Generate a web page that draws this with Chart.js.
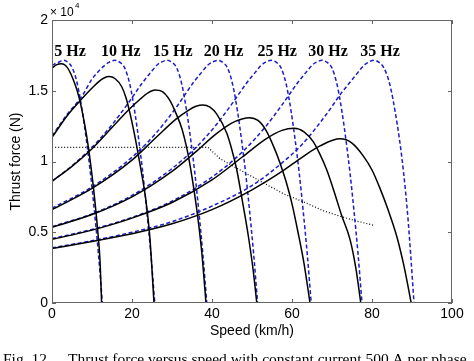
<!DOCTYPE html>
<html>
<head>
<meta charset="utf-8">
<script src="https://cdn.jsdelivr.net/npm/chart.js@4"></script>
<style>
html, body { margin: 0; padding: 0; background: #fff; }
</style>
</head>
<body>
<canvas id="myChart" width="474" height="361"></canvas>
<script>
// speed (km/h), thrust (x10^4 N)
const freqLabels = ['5 Hz', '10 Hz', '15 Hz', '20 Hz', '25 Hz', '30 Hz', '35 Hz']

const black5 = [[0,1.66],[1.2,1.685],[2.4,1.69],[3.8,1.665],[5.3,1.58],[6.3,1.50],[7.2,1.40],[8.25,1.25],[9.1,1.10],[9.8,0.95],[10.5,0.78],[11.4,0.52],[12,0.30],[12.4,0]]
const black10 = [[0,1.17],[3.7,1.32],[7.7,1.45],[9.7,1.51],[11.7,1.565],[13,1.59],[14.3,1.60],[15.8,1.585],[17.4,1.53],[18.5,1.45],[19.5,1.34],[20.5,1.21],[21.5,1.06],[22.5,0.90],[23.5,0.72],[24.5,0.45],[25.5,0]]
const black15 = [[0,0.86],[5,0.965],[10,1.09],[15,1.24],[19,1.36],[22,1.44],[24,1.485],[25.75,1.505],[27.5,1.495],[29.5,1.43],[31,1.34],[32.5,1.23],[33.8,1.08],[35,0.89],[36.2,0.66],[37.4,0.37],[38.5,0]]
const black20 = [[0,0.66],[10,0.81],[20,1.01],[26,1.17],[31,1.30],[34,1.36],[36,1.39],[37.7,1.40],[39.5,1.385],[41.2,1.335],[43.7,1.20],[45,1.08],[46.2,0.94],[47.6,0.72],[49.1,0.47],[50.3,0.23],[51.2,0]]
const black25 = [[0,0.535],[10,0.625],[20,0.75],[30,0.93],[36,1.07],[40.8,1.19],[44.8,1.27],[47.5,1.30],[49.3,1.31],[51.5,1.29],[53.5,1.22],[55.5,1.10],[57,0.99],[58.5,0.86],[60,0.70],[61.5,0.50],[63,0.28],[64.5,0]]
const black30 = [[0,0.45],[10,0.515],[20,0.60],[30,0.71],[40,0.87],[47.5,1.03],[53.5,1.16],[57.5,1.22],[60.5,1.235],[63,1.21],[65.3,1.14],[67,1.05],[68.7,0.94],[70.5,0.79],[72.4,0.62],[74.5,0.45],[76,0.24],[77.2,0]]
const black35 = [[0,0.385],[10,0.435],[20,0.49],[30,0.56],[40,0.66],[50,0.80],[57.5,0.93],[62.5,1.03],[67,1.11],[72,1.16],[75,1.13],[77.8,1.04],[80,0.94],[82,0.81],[84,0.66],[86.2,0.47],[88,0.26],[89.8,0]]

const blue5 = [[0,1.68],[1.5,1.70],[3.0,1.715],[4.0,1.70],[5.1,1.66],[6.4,1.54],[7.6,1.35],[8.6,1.15],[9.6,0.92],[10.6,0.65],[11.6,0.35],[12.6,0]]
const blue10 = [[0,1.18],[3.7,1.33],[7.7,1.47],[9.7,1.57],[11.7,1.64],[13.2,1.68],[14.2,1.70],[15.7,1.715],[17.0,1.70],[18.2,1.66],[19.5,1.54],[20.7,1.35],[21.7,1.15],[22.7,0.92],[23.7,0.65],[24.7,0.35],[25.7,0]]
const blue15 = [[0,0.86],[5,0.97],[10,1.10],[15,1.26],[19,1.41],[22.7,1.56],[24.7,1.63],[26.2,1.68],[27.2,1.70],[28.7,1.715],[30,1.70],[31.2,1.66],[32.5,1.54],[33.7,1.35],[34.7,1.15],[35.7,0.92],[36.7,0.65],[37.7,0.35],[38.7,0]]
const blue20 = [[0,0.67],[10,0.82],[20,1.03],[26,1.20],[31,1.38],[35.4,1.56],[37.4,1.63],[38.9,1.68],[39.9,1.70],[41.4,1.715],[42.7,1.70],[43.9,1.66],[45.2,1.54],[46.4,1.35],[47.4,1.15],[48.4,0.92],[49.4,0.65],[50.4,0.35],[51.4,0]]
const blue25 = [[0,0.54],[10,0.63],[20,0.76],[30,0.95],[36,1.10],[40.8,1.25],[44.8,1.40],[48.8,1.56],[50.8,1.63],[52.3,1.68],[53.3,1.70],[54.8,1.715],[56.1,1.70],[57.3,1.66],[58.6,1.54],[59.8,1.35],[60.8,1.15],[61.8,0.92],[62.8,0.65],[63.8,0.35],[64.8,0]]
const blue30 = [[0,0.455],[10,0.52],[20,0.605],[30,0.72],[40,0.89],[47.5,1.065],[53.5,1.25],[57.5,1.40],[61.5,1.56],[63.5,1.63],[65,1.68],[66,1.70],[67.5,1.715],[68.8,1.70],[70,1.66],[71.3,1.54],[72.5,1.35],[73.5,1.15],[74.5,0.92],[75.5,0.65],[76.5,0.35],[77.5,0]]
const blue35 = [[0,0.39],[10,0.44],[20,0.50],[30,0.575],[40,0.685],[50,0.83],[57.5,0.99],[62.5,1.12],[68.5,1.33],[72.5,1.49],[74.5,1.56],[76.5,1.63],[78,1.68],[79,1.70],[80.5,1.715],[81.8,1.70],[83,1.66],[84.5,1.54],[85.8,1.35],[86.9,1.15],[87.9,0.92],[88.9,0.63],[89.7,0.33],[90.5,0]]

const limitCurve = [[0.8,1.10],[39,1.10],[42,1.02],[47,0.94],[52.8,0.85],[58,0.77],[63.7,0.705],[68,0.65],[72.4,0.61],[76,0.58],[80.3,0.55]]

const blackCurves = [black5, black10, black15, black20, black25, black30, black35]
const blueCurves = [blue5, blue10, blue15, blue20, blue25, blue30, blue35]

const BLUE = '#1c1cc8'
const SANS = "'Liberation Sans', Arial, sans-serif"
const SERIF = "'Liberation Serif', 'Times New Roman', serif"

function pts(arr) {
    return arr.map(p => ({ x: p[0], y: p[1] }))
}

const decor = {
    id: 'decor',
    afterDatasetsDraw(chart) {
        const { ctx, chartArea: a, scales } = chart
        const x = scales.x, y = scales.y
        ctx.save()
        // box + inward ticks
        ctx.strokeStyle = '#666'
        ctx.lineWidth = 1
        ctx.strokeRect(a.left + 0.5, a.top + 0.5, a.right - a.left - 1, a.bottom - a.top - 1)
        ctx.beginPath()
        x.ticks.forEach(t => {
            const px = Math.round(x.getPixelForValue(t.value)) + 0.5
            ctx.moveTo(px, a.bottom); ctx.lineTo(px, a.bottom - 4)
            ctx.moveTo(px, a.top); ctx.lineTo(px, a.top + 4)
        })
        y.ticks.forEach(t => {
            const py = Math.round(y.getPixelForValue(t.value)) + 0.5
            ctx.moveTo(a.left, py); ctx.lineTo(a.left + 4, py)
            ctx.moveTo(a.right, py); ctx.lineTo(a.right - 4, py)
        })
        ctx.stroke()

        ctx.fillStyle = '#000'
        // exponent
        ctx.textAlign = 'left'
        ctx.textBaseline = 'alphabetic'
        ctx.font = '12px ' + SANS
        ctx.fillText('\u00d7 10', a.left - 2, 16)
        ctx.font = '8px ' + SANS
        ctx.fillText('4', a.left + 23, 8)

        // frequency labels over the blue peaks
        ctx.font = 'bold 16px ' + SERIF
        ctx.textAlign = 'center'
        blueCurves.forEach((c, i) => {
            let top = c[0]
            c.forEach(p => { if (p[1] > top[1]) top = p })
            ctx.fillText(freqLabels[i], x.getPixelForValue(top[0] + 1.5), 56)
        })

        // axis titles
        ctx.font = '14px ' + SANS
        ctx.textBaseline = 'middle'
        ctx.fillText('Speed (km/h)', (a.left + a.right) / 2, 331)
        ctx.save()
        ctx.translate(16, (a.top + a.bottom) / 2)
        ctx.rotate(-Math.PI / 2)
        ctx.fillText('Thrust force (N)', 0, 0)
        ctx.restore()

        // caption (cut off by the bottom edge)
        ctx.textAlign = 'left'
        ctx.textBaseline = 'alphabetic'
        ctx.font = '15.5px ' + SERIF
        ctx.fillText('Fig. 12.', 3, 364)
        ctx.fillText('Thrust force versus speed with constant current 500 A per phase', 68, 364)
        ctx.restore()
    }
}

function render_chart() {
    const datasets = []
    blackCurves.forEach(c => {
        datasets.push({ data: pts(c), borderColor: '#000', borderWidth: 1.5 })
    })
    blueCurves.forEach(c => {
        datasets.push({ data: pts(c), borderColor: BLUE, borderWidth: 1.5, borderDash: [4, 2.5] })
    })
    datasets.push({ data: pts(limitCurve), borderColor: '#000', borderWidth: 1.2, borderDash: [1, 2], cubicInterpolationMode: 'default', tension: 0 })

    const tickFont = { family: SANS, size: 14 }
    const config = {
        type: 'scatter',
        data: { datasets: datasets },
        options: {
            responsive: false,
            animation: false,
            showLine: true,
            layout: { padding: { left: 0, top: 20, right: 22, bottom: 0 } },
            elements: {
                point: { radius: 0, hoverRadius: 0 },
                line: { cubicInterpolationMode: 'monotone', fill: false },
            },
            plugins: { legend: { display: false }, tooltip: { enabled: false } },
            scales: {
                x: {
                    type: 'linear', min: 0, max: 100,
                    ticks: { stepSize: 20, padding: 3, color: '#000', font: tickFont, maxRotation: 0 },
                    grid: { display: false, drawTicks: false },
                    border: { display: false },
                    afterFit: s => { s.height = 58 },
                },
                y: {
                    type: 'linear', min: 0, max: 2,
                    ticks: { stepSize: 0.5, padding: 4, color: '#000', font: tickFont, callback: v => String(v) },
                    grid: { display: false, drawTicks: false },
                    border: { display: false },
                    afterFit: s => { s.width = 52 },
                },
            },
        },
        plugins: [decor],
    }
    const myChart = new Chart(document.getElementById('myChart'), config)
}
document.addEventListener('DOMContentLoaded', render_chart)
</script>
</body>
</html>
